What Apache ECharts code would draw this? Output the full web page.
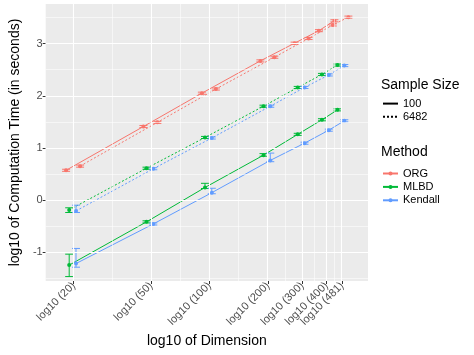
<!DOCTYPE html>
<html><head><meta charset="utf-8">
<script src="https://cdn.jsdelivr.net/npm/echarts@6/dist/echarts.min.js"></script>
<style>html,body{margin:0;padding:0;background:#fff}#c{width:474px;height:355px}</style>
</head><body><div id="c"></div>
<script>
// ---- data ----
const dims = [20, 50, 100, 200, 300, 400, 481];
const xTickLabels = ['log10 (20)', 'log10 (50)', 'log10 (100)', 'log10 (200)', 'log10 (300)', 'log10 (400)', 'log10 (481)'];
const yTicks = [-1, 0, 1, 2, 3];
const yTickLabels = ['-1', '0', '1', '2', '3'];
const sampleSizes = ['100', '6482'];
const methods = ['ORG', 'MLBD', 'Kendall'];

// log10 of computation time (mean) and error-bar bounds
const orgS    = [0.57, 1.41, 2.05, 2.67, 3.01, 3.25, 3.44];
const orgSLo  = [0.55, 1.39, 2.03, 2.65, 2.99, 3.23, 3.42];
const orgSHi  = [0.59, 1.43, 2.07, 2.69, 3.03, 3.27, 3.46];
const orgD    = [0.65, 1.49, 2.13, 2.74, 3.10, 3.36, 3.51];
const orgDLo  = [0.63, 1.47, 2.11, 2.72, 3.08, 3.34, 3.49];
const orgDHi  = [0.67, 1.51, 2.15, 2.76, 3.12, 3.38, 3.53];
const mlbdS   = [-1.25, -0.42, 0.24, 0.86, 1.26, 1.54, 1.73];
const mlbdSLo = [-1.47, -0.44, 0.22, 0.84, 1.24, 1.52, 1.71];
const mlbdSHi = [-1.04, -0.40, 0.32, 0.89, 1.28, 1.56, 1.75];
const mlbdD   = [-0.19, 0.61, 1.20, 1.80, 2.16, 2.41, 2.59];
const mlbdDLo = [-0.24, 0.59, 1.18, 1.78, 2.14, 2.39, 2.57];
const mlbdDHi = [-0.15, 0.63, 1.22, 1.82, 2.18, 2.43, 2.61];
const kenS    = [-1.22, -0.46, 0.14, 0.76, 1.09, 1.34, 1.52];
const kenSLo  = [-1.29, -0.48, 0.12, 0.735, 1.07, 1.32, 1.50];
const kenSHi  = [-0.93, -0.44, 0.225, 0.90, 1.11, 1.36, 1.54];
const kenD    = [-0.21, 0.60, 1.19, 1.80, 2.16, 2.40, 2.58];
const kenDLo  = [-0.24, 0.58, 1.17, 1.78, 2.14, 2.38, 2.56];
const kenDHi  = [-0.10, 0.62, 1.21, 1.82, 2.18, 2.42, 2.60];

// ---- styling / layout ----
const FONT = '"Liberation Sans", Arial, sans-serif';
const COL = { ORG: '#F8766D', MLBD: '#00BA38', Kendall: '#619CFF' };
const DOTTED = [2, 2];
const xTickVals = dims.map(d => Math.log10(d));
const xMinor = [];
for (let i = 0; i < xTickVals.length - 1; i++) xMinor.push((xTickVals[i] + xTickVals[i + 1]) / 2);
const yMajor = yTicks;
const yMinor = [-1.5, -0.5, 0.5, 1.5, 2.5, 3.5];

function lineSeries(name, ys, dodge, dashed) {
  return {
    name: name, type: 'line', z: 3,
    data: dims.map((d, i) => [Math.log10(d) + dodge, ys[i]]),
    symbol: 'circle', symbolSize: 4, showSymbol: true,
    itemStyle: { color: COL[name] },
    lineStyle: { color: COL[name], width: 1, type: dashed ? DOTTED : 'solid' },
    silent: true
  };
}
function errSeries(name, lo, hi, dodge) {
  const color = COL[name];
  return {
    type: 'custom', name: name + '_err', z: 4, silent: true,
    data: dims.map((d, i) => [Math.log10(d) + dodge, lo[i], hi[i]]),
    encode: { x: 0, y: [1, 2] },
    renderItem: function (params, api) {
      const x = api.value(0);
      const p1 = api.coord([x, api.value(1)]);
      const p2 = api.coord([x, api.value(2)]);
      const w = 4;
      const st = { stroke: color, lineWidth: 1 };
      return { type: 'group', children: [
        { type: 'line', shape: { x1: p1[0], y1: p1[1], x2: p2[0], y2: p2[1] }, style: st },
        { type: 'line', shape: { x1: p1[0] - w, y1: p1[1], x2: p1[0] + w, y2: p1[1] }, style: st },
        { type: 'line', shape: { x1: p2[0] - w, y1: p2[1], x2: p2[0] + w, y2: p2[1] }, style: st }
      ]};
    }
  };
}

const D_ORG_S = -0.039, D_ORG_D = 0.033, D_MLBD = -0.023, D_KEN = 0.012;

const gridLines = [];
yMajor.forEach(v => gridLines.push({ yAxis: v, lineStyle: { width: 1.1 } }));
yMinor.forEach(v => gridLines.push({ yAxis: v, lineStyle: { width: 0.55 } }));
xTickVals.forEach(v => gridLines.push({ xAxis: v, lineStyle: { width: 1.1 } }));
xMinor.forEach(v => gridLines.push({ xAxis: v, lineStyle: { width: 0.55 } }));

const series = [
  {
    type: 'line', name: '__grid', data: [], z: 1, silent: true,
    markLine: { silent: true, symbol: ['none', 'none'], label: { show: false }, animation: false,
      lineStyle: { color: '#FFFFFF', type: 'solid' }, data: gridLines }
  },
  lineSeries('ORG', orgS, D_ORG_S, false),
  lineSeries('ORG', orgD, D_ORG_D, true),
  lineSeries('MLBD', mlbdS, D_MLBD, false),
  lineSeries('MLBD', mlbdD, D_MLBD, true),
  lineSeries('Kendall', kenS, D_KEN, false),
  lineSeries('Kendall', kenD, D_KEN, true),
  errSeries('ORG', orgSLo, orgSHi, D_ORG_S),
  errSeries('ORG', orgDLo, orgDHi, D_ORG_D),
  errSeries('MLBD', mlbdSLo, mlbdSHi, D_MLBD),
  errSeries('MLBD', mlbdDLo, mlbdDHi, D_MLBD),
  errSeries('Kendall', kenSLo, kenSHi, D_KEN),
  errSeries('Kendall', kenDLo, kenDHi, D_KEN),
  { type: 'line', name: sampleSizes[0], data: [], symbol: 'none', itemStyle: { color: '#000' },
    lineStyle: { color: '#000', width: 1, type: 'solid' } },
  { type: 'line', name: sampleSizes[1], data: [], symbol: 'none', itemStyle: { color: '#000' },
    lineStyle: { color: '#000', width: 1, type: DOTTED } }
];

const chart = echarts.init(document.getElementById('c'), null, { renderer: 'canvas' });
chart.setOption({
  animation: false,
  textStyle: { fontFamily: FONT },
  grid: { left: 37, right: 106, top: 4, bottom: 74, show: true, backgroundColor: '#EBEBEB', borderWidth: 0 },
  title: [
    { text: 'Sample Size', left: 381, top: 78, padding: 0,
      textStyle: { fontFamily: FONT, fontSize: 14, fontWeight: 'normal', color: '#000' } },
    { text: 'Method', left: 381, top: 145, padding: 0,
      textStyle: { fontFamily: FONT, fontSize: 14, fontWeight: 'normal', color: '#000' } }
  ],
  legend: [
    { data: sampleSizes.map(n => ({ name: n, itemStyle: { opacity: 0 } })),
      left: 382, top: 98, orient: 'vertical', padding: 0, itemWidth: 15, itemHeight: 14, itemGap: 2,
      selectedMode: false, textStyle: { fontFamily: FONT, fontSize: 11, color: '#000' } },
    { data: methods, left: 382, top: 168, orient: 'vertical', padding: 0, itemWidth: 15, itemHeight: 5, itemGap: 2.4,
      selectedMode: false, textStyle: { fontFamily: FONT, fontSize: 11, color: '#000' } }
  ],
  xAxis: {
    type: 'value', min: 1.157, max: 2.816,
    name: 'log10 of Dimension', nameLocation: 'middle', nameGap: 53,
    nameTextStyle: { fontFamily: FONT, fontSize: 14, color: '#000' },
    axisLine: { show: false, onZero: false },
    splitLine: { show: false },
    axisTick: { show: true, length: 3, customValues: xTickVals, lineStyle: { color: '#333333', width: 1 } },
    axisLabel: { customValues: xTickVals, rotate: 45, margin: 3, fontSize: 11, color: '#4D4D4D', fontFamily: FONT,
      formatter: function (v) {
        let best = 0;
        for (let i = 1; i < xTickVals.length; i++) if (Math.abs(xTickVals[i] - v) < Math.abs(xTickVals[best] - v)) best = i;
        return xTickLabels[best];
      } }
  },
  yAxis: {
    type: 'value', min: -1.555, max: 3.762,
    name: 'log10 of Computation Time (in seconds)', nameLocation: 'middle', nameGap: 15,
    nameTextStyle: { fontFamily: FONT, fontSize: 14, color: '#000' },
    axisLine: { show: false, onZero: false },
    splitLine: { show: false },
    axisTick: { show: true, length: 3, customValues: yTicks, lineStyle: { color: '#333333', width: 1 } },
    axisLabel: { customValues: yTicks, margin: 3, fontSize: 11, color: '#4D4D4D', fontFamily: FONT,
      formatter: function (v) {
        const i = yTicks.findIndex(t => Math.abs(t - v) < 1e-6);
        return i >= 0 ? yTickLabels[i] : '';
      } }
  },
  series: series
});
</script>
</body></html>
